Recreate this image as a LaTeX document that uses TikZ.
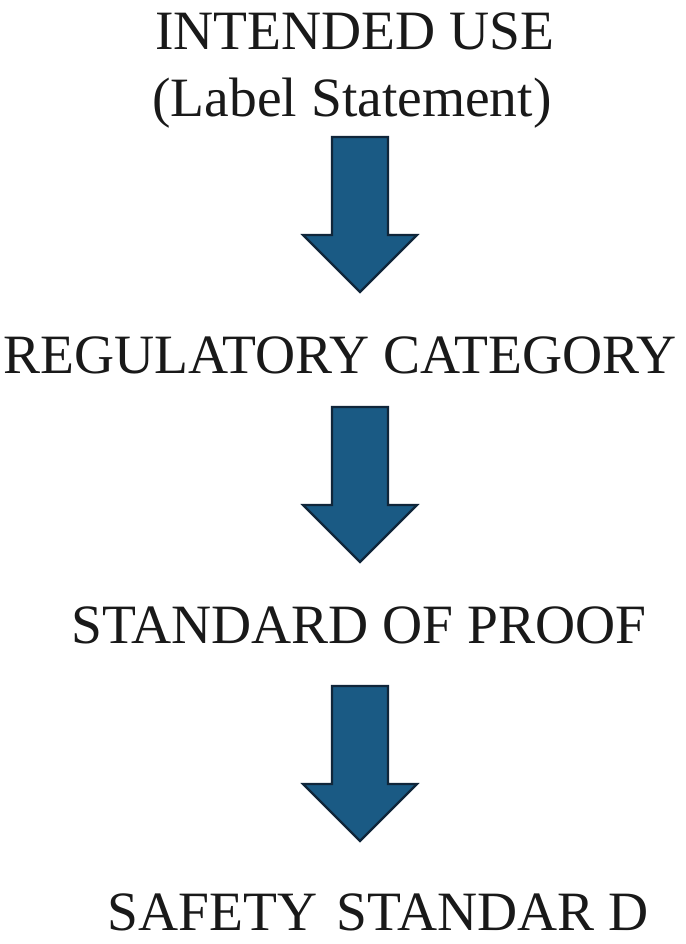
\documentclass[tikz,border=0pt]{standalone}
\usepackage{fontspec}
\setmainfont{Liberation Serif}
\definecolor{arrowfill}{RGB}{26,90,132}
\definecolor{arrowline}{RGB}{16,38,58}
\definecolor{textcol}{RGB}{25,25,25}
\tikzset{
  lbl/.style={anchor=base, inner sep=0pt, text=textcol, font=\fontsize{55.5}{60}\selectfont},
  arrowstyle/.style={fill=arrowfill, draw=arrowline, line width=2.2pt, line join=miter},
  blockarrow/.pic={
    \path[arrowstyle] (-28,0) -- (28,0) -- (28,-98) -- (57,-98) -- (0,-155)
      -- (-57,-98) -- (-28,-98) -- cycle;
  }
}
\begin{document}
\begin{tikzpicture}[x=1pt,y=1pt]
  \useasboundingbox[fill=white] (0,0) rectangle (685,-944);
  % texts
  \node[lbl] (use)   at (355,-50)  {INTENDED USE};
  \node[lbl] (label) at (352,-117) {(Label Statement)};
  \node[lbl] (reg)   at (340,-373) {REGULATORY CATEGORY};
  \node[lbl] (proof) at (359,-643) {STANDARD OF PROOF};
  \node[lbl] (safe)  at (378,-930) {SAFETY\hspace{0.35em}STANDAR D};
  % arrows
  \coordinate (a1) at (360,-137);
  \coordinate (a2) at (360,-407);
  \coordinate (a3) at (360,-686);
  \pic at (a1) {blockarrow};
  \pic at (a2) {blockarrow};
  \pic at (a3) {blockarrow};
\end{tikzpicture}
\end{document}
